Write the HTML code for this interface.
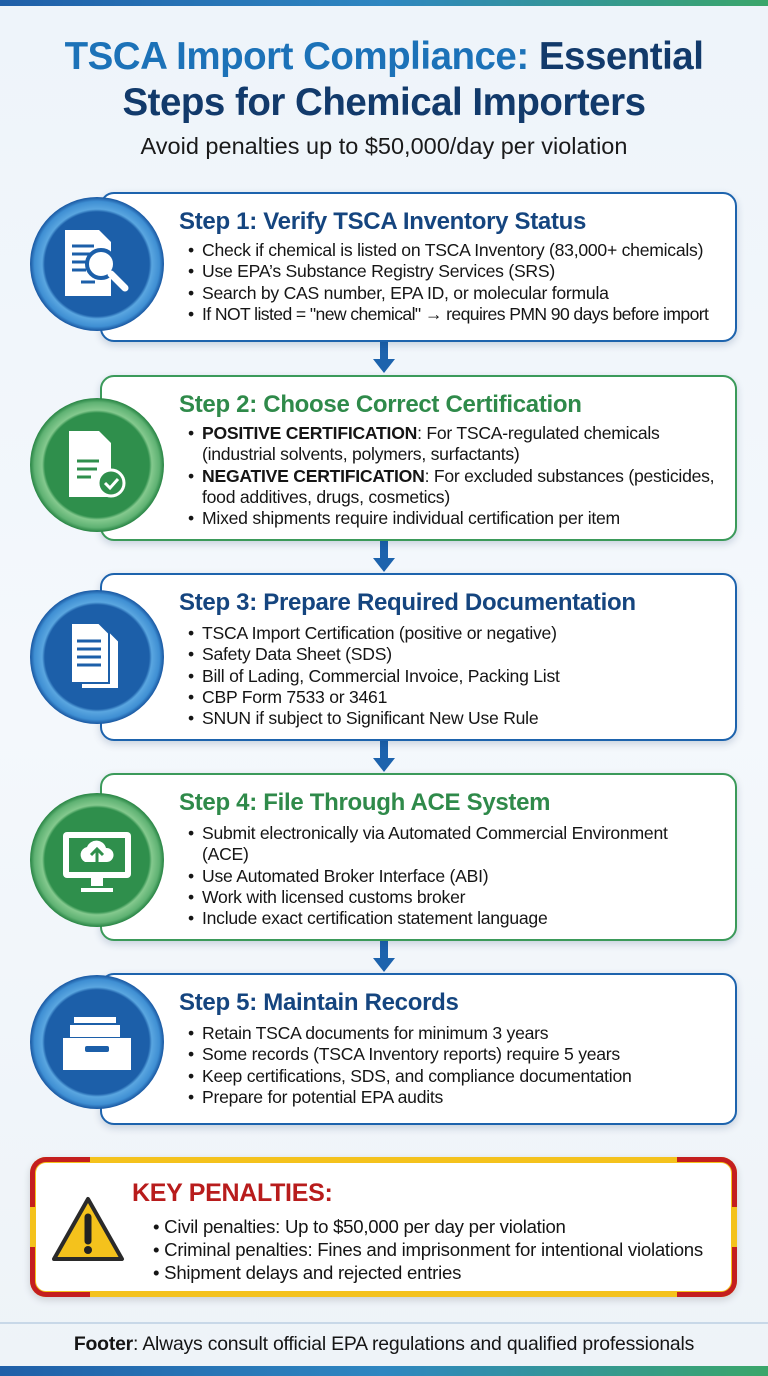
<!DOCTYPE html>
<html><head><meta charset="utf-8"><style>
*{margin:0;padding:0;box-sizing:border-box}
body{width:768px;height:1376px;position:relative;overflow:hidden;background:linear-gradient(#eef4fa,#f4f8fc 50%,#eef3f8);font-family:"Liberation Sans",sans-serif;color:#151515}
.bar{position:absolute;left:0;width:768px;background:linear-gradient(90deg,#1f5fa8,#2e86c1 50%,#3aa66a)}
h1{position:absolute;top:34px;width:768px;text-align:center;font-size:38.5px;line-height:46px;font-weight:bold;letter-spacing:-0.5px;color:#123a6b}
h1 .b{color:#1c72b8}
.sub{position:absolute;top:133px;width:768px;text-align:center;font-size:23.5px;color:#1a1a1a}
.card{position:absolute;left:100px;width:637px;background:#fff;border-radius:14px;border:2px solid;box-shadow:0 3px 8px rgba(0,40,90,.18)}
.card h2{position:absolute;left:77px;font-size:24px;font-weight:bold;letter-spacing:-0.3px;white-space:nowrap}
.card ul{position:absolute;left:86px;right:4px;list-style:none;font-size:17.6px;line-height:21.3px;letter-spacing:-0.25px;white-space:nowrap}
.card li{padding-left:14px;position:relative}
.card li:before{content:"•";position:absolute;left:0}
.blue{border-color:#1d63ad}.blue h2{color:#15457f}
.green{border-color:#3b9a5a}.green h2{color:#2f8a4a}
.circ{position:absolute;left:30px;width:134px;height:134px;border-radius:50%;display:flex;align-items:center;justify-content:center}
.cb{background:radial-gradient(circle,#1c5fa9 55%,#5aa6e0 58%,#3f8fd3 66%,#1e5ea7 70%)}
.cg{background:radial-gradient(circle,#2f8f4c 55%,#84c98e 58%,#5fb273 66%,#2f8a4a 70%)}
.arr{position:absolute;left:373px;width:22px}
.pen{position:absolute;left:30px;top:1157px;width:707px;height:140px;border-radius:16px;border:6px solid #f4c21c;background:#fff;box-shadow:0 3px 8px rgba(0,0,0,.15)}
.rc{position:absolute;width:60px;height:50px;border-color:#c41e1e;border-style:solid;border-width:0}
</style></head><body>
<div class="bar" style="top:0;height:6px"></div>
<div class="bar" style="top:1366px;height:10px"></div>
<h1><span class="b">TSCA Import Compliance:</span> Essential<br>Steps for Chemical Importers</h1>
<div class="sub">Avoid penalties up to $50,000/day per violation</div>

<svg class="arr" style="top:341px" height="34" viewBox="0 0 22 34"><rect x="7" y="0" width="8" height="20" fill="#1d63ad"/><polygon points="0,18 22,18 11,32" fill="#1d63ad"/></svg>
<svg class="arr" style="top:540px" height="34" viewBox="0 0 22 34"><rect x="7" y="0" width="8" height="20" fill="#1d63ad"/><polygon points="0,18 22,18 11,32" fill="#1d63ad"/></svg>
<svg class="arr" style="top:740px" height="34" viewBox="0 0 22 34"><rect x="7" y="0" width="8" height="20" fill="#1d63ad"/><polygon points="0,18 22,18 11,32" fill="#1d63ad"/></svg>
<svg class="arr" style="top:940px" height="34" viewBox="0 0 22 34"><rect x="7" y="0" width="8" height="20" fill="#1d63ad"/><polygon points="0,18 22,18 11,32" fill="#1d63ad"/></svg>

<div class="card blue" style="top:192px;height:150px"><h2 style="top:14px">Step 1: Verify TSCA Inventory Status</h2>
<ul style="top:46px"><li>Check if chemical is listed on TSCA Inventory (83,000+ chemicals)</li><li>Use EPA’s Substance Registry Services (SRS)</li><li>Search by CAS number, EPA ID, or molecular formula</li><li style="letter-spacing:-0.6px">If NOT listed = "new chemical" → requires PMN 90 days before import</li></ul></div>
<div class="circ cb" style="top:197px"><svg width="80" height="80" viewBox="0 0 80 80"><path d="M8 6h34l12 12v54H8z" fill="#fff"/><g stroke="#1c5fa9" stroke-width="3"><path d="M15 22h22M15 30h18M15 38h14M15 46h14M24 58h14"/></g><circle cx="44" cy="40" r="14" fill="#fff" stroke="#1c5fa9" stroke-width="4"/><path d="M54 50l14 14" stroke="#fff" stroke-width="7" stroke-linecap="round"/></svg></div>

<div class="card green" style="top:375px;height:166px"><h2 style="top:14px">Step 2: Choose Correct Certification</h2>
<ul style="top:46px"><li><b>POSITIVE CERTIFICATION</b>: For TSCA-regulated chemicals<br>(industrial solvents, polymers, surfactants)</li><li><b>NEGATIVE CERTIFICATION</b>: For excluded substances (pesticides,<br>food additives, drugs, cosmetics)</li><li>Mixed shipments require individual certification per item</li></ul></div>
<div class="circ cg" style="top:398px"><svg width="80" height="80" viewBox="0 0 80 80"><path d="M12 6h30l12 12v54H12z" fill="#fff"/><g stroke="#2f8f4c" stroke-width="3"><path d="M20 36h22M20 44h20M20 52h14"/></g><circle cx="54" cy="58" r="13" fill="#2f8f4c" stroke="#fff" stroke-width="3"/><path d="M48 58l5 5 8-9" stroke="#fff" stroke-width="3" fill="none"/></svg></div>

<div class="card blue" style="top:573px;height:168px"><h2 style="top:14px">Step 3: Prepare Required Documentation</h2>
<ul style="top:48px"><li>TSCA Import Certification (positive or negative)</li><li>Safety Data Sheet (SDS)</li><li>Bill of Lading, Commercial Invoice, Packing List</li><li>CBP Form 7533 or 3461</li><li>SNUN if subject to Significant New Use Rule</li></ul></div>
<div class="circ cb" style="top:590px"><svg width="80" height="80" viewBox="0 0 80 80"><path d="M24 14h28l10 10v48H24z" fill="#fff" stroke="#1c5fa9" stroke-width="2"/><path d="M14 6h28l10 10v50H14z" fill="#fff" stroke="#1c5fa9" stroke-width="2"/><g stroke="#1c5fa9" stroke-width="3"><path d="M20 24h24M20 32h24M20 40h24M20 48h24"/></g></svg></div>

<div class="card green" style="top:773px;height:168px"><h2 style="top:14px">Step 4: File Through ACE System</h2>
<ul style="top:48px"><li>Submit electronically via Automated Commercial Environment<br>(ACE)</li><li>Use Automated Broker Interface (ABI)</li><li>Work with licensed customs broker</li><li>Include exact certification statement language</li></ul></div>
<div class="circ cg" style="top:793px"><svg width="80" height="80" viewBox="0 0 80 80"><rect x="6" y="12" width="68" height="46" rx="4" fill="#fff"/><rect x="12" y="18" width="56" height="34" fill="#2f8f4c"/><path d="M34 58h12v8H34zM24 68h32v4H24z" fill="#fff"/><path d="M28 42a8 8 0 0 1 2-15 10 10 0 0 1 19 1 7 7 0 0 1 1 14z" fill="#fff"/><path d="M40 44V30M34 35l6-6 6 6" stroke="#2f8f4c" stroke-width="3" fill="none"/></svg></div>

<div class="card blue" style="top:973px;height:152px"><h2 style="top:14px">Step 5: Maintain Records</h2>
<ul style="top:48px"><li>Retain TSCA documents for minimum 3 years</li><li>Some records (TSCA Inventory reports) require 5 years</li><li>Keep certifications, SDS, and compliance documentation</li><li>Prepare for potential EPA audits</li></ul></div>
<div class="circ cb" style="top:975px"><svg width="80" height="80" viewBox="0 0 80 80"><path d="M16 14h44v20H16z" fill="#fff" stroke="#1c5fa9" stroke-width="2"/><path d="M12 22h52v14H12z" fill="#fff" stroke="#1c5fa9" stroke-width="2"/><path d="M6 36h68v32H6z" fill="#fff"/><rect x="28" y="44" width="24" height="6" rx="2" fill="#1c5fa9"/></svg></div>

<div class="pen">
<div class="rc" style="left:-6px;top:-6px;border-top-width:5px;border-left-width:5px;border-top-left-radius:16px"></div>
<div class="rc" style="right:-6px;top:-6px;border-top-width:5px;border-right-width:5px;border-top-right-radius:16px"></div>
<div class="rc" style="left:-6px;bottom:-6px;border-bottom-width:5px;border-left-width:5px;border-bottom-left-radius:16px"></div>
<div class="rc" style="right:-6px;bottom:-6px;border-bottom-width:5px;border-right-width:5px;border-bottom-right-radius:16px"></div>
<div style="position:absolute;left:96px;top:16px;font-size:25px;font-weight:bold;color:#b81c1c;letter-spacing:-0.3px">KEY PENALTIES:</div>
<svg style="position:absolute;left:14px;top:32px" width="76" height="68" viewBox="0 0 76 68"><path d="M38 4L72 64H4z" fill="#f4c21c" stroke="#2a2a2a" stroke-width="4" stroke-linejoin="round"/><path d="M38 22v24" stroke="#222" stroke-width="7" stroke-linecap="round"/><circle cx="38" cy="55" r="4" fill="#222"/></svg>
<ul style="position:absolute;left:117px;top:52px;list-style:none;font-size:18.6px;line-height:23px;letter-spacing:-0.25px;white-space:nowrap">
<li>• Civil penalties: Up to $50,000 per day per violation</li><li>• Criminal penalties: Fines and imprisonment for intentional violations</li><li>• Shipment delays and rejected entries</li></ul></div>

<div style="position:absolute;top:1322px;left:0;width:768px;height:2px;background:#c8d8e8"></div>
<div style="position:absolute;top:1333px;width:768px;text-align:center;font-size:19.4px;letter-spacing:-0.2px"><b>Footer</b>: Always consult official EPA regulations and qualified professionals</div>
</body></html>
